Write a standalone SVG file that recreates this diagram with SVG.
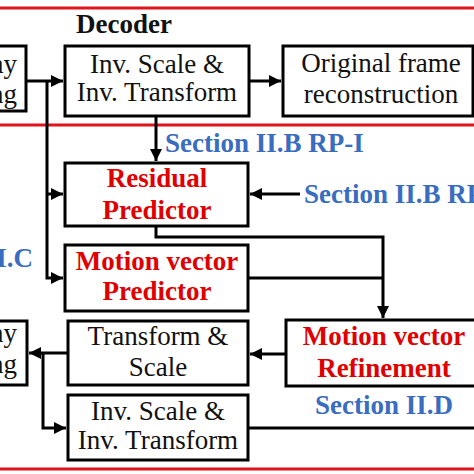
<svg xmlns="http://www.w3.org/2000/svg" width="474" height="474" viewBox="0 0 474 474">
<defs>
<marker id="ah" viewBox="0 0 10 10" refX="10" refY="5" markerWidth="4" markerHeight="4" markerUnits="strokeWidth" orient="auto"><path d="M0,0 L10,5 L0,10 Z" fill="#000"/></marker>
<style>
.box{fill:#fff;stroke:#000;stroke-width:3}
.t{font-family:"Liberation Serif","Times New Roman",serif;font-size:27px;fill:#111;text-anchor:middle}
.r{font-weight:bold;fill:#e00000}
.b{font-family:"Liberation Serif","Times New Roman",serif;font-size:27px;font-weight:bold;fill:#3a6cbf}
.sep{stroke:#e0141c;stroke-width:3}
.c{fill:none;stroke:#000;stroke-width:3}
</style>
</defs>
<rect width="474" height="474" fill="#fff"/>
<g id="separators">
<line class="sep" x1="0" y1="8" x2="474" y2="8"/>
<line class="sep" x1="0" y1="125" x2="474" y2="125"/>
<line class="sep" x1="0" y1="469" x2="474" y2="469"/>
</g>
<text class="t" x="124" y="33" font-weight="bold" fill="#000">Decoder</text>
<g id="connectors">
<path class="c" d="M26,81 H63" marker-end="url(#ah)"/>
<path class="c" d="M47,81 V278 H63" marker-end="url(#ah)"/>
<path class="c" d="M47,194 H63" marker-end="url(#ah)"/>
<path class="c" d="M249,81 H281" marker-end="url(#ah)"/>
<path class="c" d="M156,116 V161" marker-end="url(#ah)"/>
<path class="c" d="M300,194 H250" marker-end="url(#ah)"/>
<path class="c" d="M156,226 V237 H383 V318" marker-end="url(#ah)"/>
<path class="c" d="M248,278 H383"/>
<path class="c" d="M286,354 H250" marker-end="url(#ah)"/>
<path class="c" d="M68,353 H29" marker-end="url(#ah)"/>
<path class="c" d="M43,353 V428 H66" marker-end="url(#ah)"/>
<path class="c" d="M248,428 H474"/>
</g>
<g id="entropy-decoding">
<rect class="box" x="-5" y="46" width="31" height="65"/>
<text class="t" x="17" y="73" text-anchor="end" style="text-anchor:end">ay</text>
<text class="t" x="17" y="103" style="text-anchor:end">ng</text>
</g>
<g id="inv-scale-top">
<rect class="box" x="65" y="46" width="184" height="70"/>
<text class="t" x="157" y="73">Inv. Scale &amp;</text>
<text class="t" x="157" y="101">Inv. Transform</text>
</g>
<g id="original-frame">
<rect class="box" x="283" y="46" width="190" height="70"/>
<text class="t" x="381" y="72">Original frame</text>
<text class="t" x="381" y="103">reconstruction</text>
</g>
<text class="b" x="165" y="152">Section II.B RP-I</text>
<g id="residual-predictor">
<rect class="box" x="65" y="163" width="183" height="63"/>
<text class="t r" x="157" y="187">Residual</text>
<text class="t r" x="157" y="219">Predictor</text>
</g>
<text class="b" x="304" y="203">Section II.B RP</text>
<text class="b" x="33" y="267" text-anchor="end">I.C</text>
<g id="mv-predictor">
<rect class="box" x="65" y="245" width="183" height="66"/>
<text class="t r" x="157" y="270">Motion vector</text>
<text class="t r" x="157" y="300">Predictor</text>
</g>
<g id="entropy-coding">
<rect class="box" x="-5" y="321" width="32" height="64"/>
<text class="t" x="17" y="342" style="text-anchor:end">ny</text>
<text class="t" x="17" y="373" style="text-anchor:end">ng</text>
</g>
<g id="transform-scale">
<rect class="box" x="68" y="321" width="180" height="64"/>
<text class="t" x="158" y="345">Transform &amp;</text>
<text class="t" x="158" y="376">Scale</text>
</g>
<g id="mv-refinement">
<rect class="box" x="286" y="320" width="194" height="66"/>
<text class="t r" x="384" y="345">Motion vector</text>
<text class="t r" x="384" y="377">Refinement</text>
</g>
<text class="b" x="384" y="414" text-anchor="middle">Section II.D</text>
<g id="inv-scale-bottom">
<rect class="box" x="68" y="395" width="180" height="65"/>
<text class="t" x="158" y="420">Inv. Scale &amp;</text>
<text class="t" x="158" y="449">Inv. Transform</text>
</g>
</svg>
